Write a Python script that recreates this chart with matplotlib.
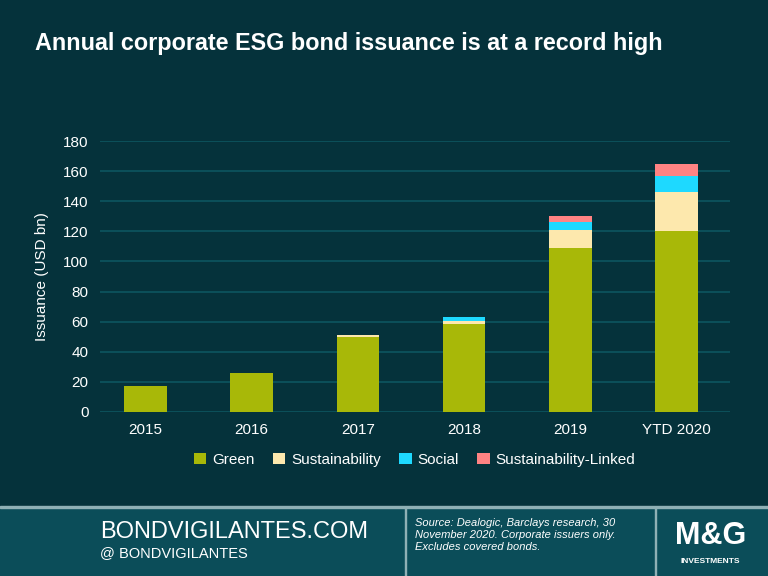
import matplotlib.pyplot as plt
import numpy as np
from matplotlib.patches import Rectangle

plt.rcParams["font.family"] = ["Liberation Sans", "DejaVu Sans"]

years = ["2015", "2016", "2017", "2018", "2019", "YTD 2020"]
green = [17, 26, 50, 58.5, 109, 120.5]
sustainability = [0, 0, 1, 2, 12, 25.5]
social = [0, 0, 0, 2.5, 5.5, 11]
linked = [0, 0, 0, 0, 4, 8]

BG = "#05323b"
FOOT = "#0b4d59"

fig = plt.figure(figsize=(7.68, 5.76), dpi=100, facecolor=BG)
ax = fig.add_axes([0.13, 0.285, 0.82, 0.47], facecolor=BG)

x = np.arange(len(years))
w = 0.4
bottom = np.zeros(len(years))
for vals, col, lab in [(green, "#a8b808", "Green"),
                       (sustainability, "#fde8ad", "Sustainability"),
                       (social, "#1ed9ff", "Social"),
                       (linked, "#ff8383", "Sustainability-Linked")]:
    ax.bar(x, vals, w, bottom=bottom, color=col, label=lab, zorder=3)
    bottom += np.array(vals)

ax.set_ylim(0, 180)
ax.set_yticks(range(0, 181, 20))
ax.set_xlim(-0.43, 5.5)
ax.set_xticks(x)
ax.set_xticklabels(years)
ax.grid(axis="y", color="#0d5560", linewidth=1.2, zorder=0)
ax.tick_params(colors="white", labelsize=11, length=0, pad=8)
for s in ax.spines.values():
    s.set_visible(False)
ax.set_ylabel("Issuance (USD bn)", color="white", fontsize=11, labelpad=10)
ax.legend(loc="upper center", bbox_to_anchor=(0.5, -0.1), ncol=4, frameon=False,
          labelcolor="white", fontsize=11, handlelength=0.8, handleheight=0.8,
          columnspacing=1.2, handletextpad=0.4)

fig.text(0.045, 0.925, "Annual corporate ESG bond issuance is at a record high",
         color="white", fontsize=16.8, fontweight="bold", va="center")

# footer
fig.patches.append(Rectangle((0, 0), 1, 0.118, transform=fig.transFigure, color=FOOT, zorder=0))
fig.patches.append(Rectangle((0, 0.118), 1, 0.004, transform=fig.transFigure, color="#8fb0b5", zorder=1))
fig.patches.append(Rectangle((0.527, 0.0), 0.0015, 0.118, transform=fig.transFigure, color="#8fb0b5", zorder=1))
fig.patches.append(Rectangle((0.853, 0.0), 0.0015, 0.118, transform=fig.transFigure, color="#8fb0b5", zorder=1))
fig.text(0.13, 0.077, "BONDVIGILANTES.COM", color="white", fontsize=17, va="center")
fig.text(0.13, 0.04, "@ BONDVIGILANTES", color="white", fontsize=10.5, va="center")
fig.text(0.54, 0.1, "Source: Dealogic, Barclays research, 30\nNovember 2020. Corporate issuers only.\nExcludes covered bonds.",
         color="white", fontsize=8, style="italic", va="top", linespacing=1.2)
fig.text(0.925, 0.07, "M&G", color="white", fontsize=22, fontweight="bold", ha="center", va="center")
fig.text(0.925, 0.025, "INVESTMENTS", color="white", fontsize=6, fontweight="bold", ha="center", va="center")

fig.savefig("out.png", facecolor=BG)
